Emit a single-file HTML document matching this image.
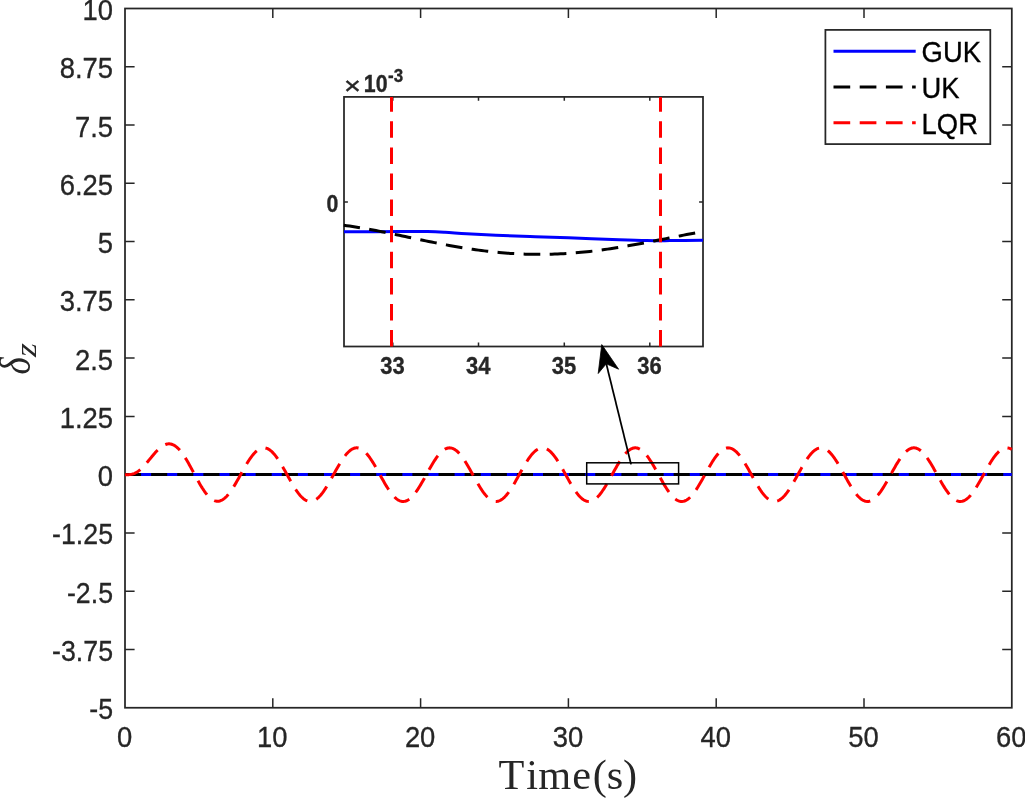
<!DOCTYPE html>
<html lang="en"><head><meta charset="utf-8"><title>Time response plot</title>
<style>html,body{margin:0;padding:0;background:#fff}svg{display:block}.t{font-family:"Liberation Sans",sans-serif;font-size:27.4px;fill:#262626;stroke:#262626;stroke-width:0.3px}.lg{font-family:"Liberation Sans",sans-serif;font-size:27.4px;fill:#000;stroke:#000;stroke-width:0.3px}.b{font-family:"Liberation Sans",sans-serif;font-weight:bold;font-size:22px;fill:#262626;stroke:#262626;stroke-width:0.3px}.xl{font-family:"Liberation Serif",serif;font-size:42.3px;fill:#262626}.yl{font-family:"Liberation Serif","DejaVu Serif",serif;font-style:italic;fill:#262626}</style></head><body>
<svg width="1025" height="800" viewBox="0 0 1025 800">
<rect width="1025" height="800" fill="#fff"/>
<g fill="none" stroke="#262626" stroke-width="1.75">
<rect x="125.0" y="8.5" width="886.80" height="699.25"/>
<path d="M272.80 707.75v-9.6M272.80 8.5v9.6M420.60 707.75v-9.6M420.60 8.5v9.6M568.40 707.75v-9.6M568.40 8.5v9.6M716.20 707.75v-9.6M716.20 8.5v9.6M864.00 707.75v-9.6M864.00 8.5v9.6M125.0 66.77h9.6M1011.8 66.77h-9.6M125.0 125.04h9.6M1011.8 125.04h-9.6M125.0 183.31h9.6M1011.8 183.31h-9.6M125.0 241.58h9.6M1011.8 241.58h-9.6M125.0 299.85h9.6M1011.8 299.85h-9.6M125.0 358.12h9.6M1011.8 358.12h-9.6M125.0 416.40h9.6M1011.8 416.40h-9.6M125.0 474.67h9.6M1011.8 474.67h-9.6M125.0 532.94h9.6M1011.8 532.94h-9.6M125.0 591.21h9.6M1011.8 591.21h-9.6M125.0 649.48h9.6M1011.8 649.48h-9.6" stroke-width="1.5"/>
</g>
<g fill="none" stroke-width="3.0">
<path d="M125.0 474.50H1011.8" stroke="#0000ff"/>
<path d="M125.0 474.50H1011.8" stroke="#000" stroke-dasharray="16.1 10.026"/>
<path d="M125.00 474.67 L125.74 474.67 L126.48 474.68 L127.22 474.67 L127.96 474.66 L128.69 474.63 L129.43 474.58 L130.17 474.50 L130.91 474.39 L131.65 474.24 L132.39 474.06 L133.13 473.84 L133.87 473.58 L134.61 473.28 L135.35 472.94 L136.09 472.55 L136.82 472.12 L137.56 471.65 L138.30 471.14 L139.04 470.59 L139.78 469.99 L140.52 469.36 L141.26 468.70 L142.00 468.00 L142.74 467.27 L143.47 466.50 L144.21 465.71 L144.95 464.90 L145.69 464.07 L146.43 463.21 L147.17 462.34 L147.91 461.46 L148.65 460.56 L149.39 459.66 L150.13 458.76 L150.87 457.86 L151.60 456.96 L152.34 456.06 L153.08 455.18 L153.82 454.31 L154.56 453.45 L155.30 452.61 L156.04 451.80 L156.78 451.01 L157.52 450.25 L158.25 449.52 L158.99 448.82 L159.73 448.16 L160.47 447.54 L161.21 446.95 L161.95 446.42 L162.69 445.93 L163.43 445.48 L164.17 445.09 L164.91 444.75 L165.64 444.46 L166.38 444.23 L167.12 444.05 L167.86 443.93 L168.60 443.87 L169.34 443.87 L170.08 443.93 L170.82 444.04 L171.56 444.22 L172.30 444.46 L173.03 444.76 L173.77 445.12 L174.51 445.54 L175.25 446.03 L175.99 446.57 L176.73 447.16 L177.47 447.82 L178.21 448.53 L178.95 449.30 L179.69 450.11 L180.43 450.98 L181.16 451.90 L181.90 452.87 L182.64 453.89 L183.38 454.94 L184.12 456.04 L184.86 457.18 L185.60 458.36 L186.34 459.56 L187.08 460.80 L187.81 462.07 L188.55 463.36 L189.29 464.68 L190.03 466.01 L190.77 467.36 L191.51 468.72 L192.25 470.10 L192.99 471.48 L193.73 472.86 L194.47 474.24 L195.20 475.62 L195.94 477.00 L196.68 478.36 L197.42 479.71 L198.16 481.05 L198.90 482.36 L199.64 483.66 L200.38 484.92 L201.12 486.16 L201.86 487.37 L202.59 488.55 L203.33 489.68 L204.07 490.78 L204.81 491.83 L205.55 492.84 L206.29 493.80 L207.03 494.71 L207.77 495.57 L208.51 496.38 L209.25 497.13 L209.98 497.82 L210.72 498.45 L211.46 499.02 L212.20 499.53 L212.94 499.97 L213.68 500.35 L214.42 500.67 L215.16 500.92 L215.90 501.10 L216.64 501.21 L217.38 501.26 L218.11 501.24 L218.85 501.15 L219.59 501.00 L220.33 500.77 L221.07 500.49 L221.81 500.13 L222.55 499.72 L223.29 499.24 L224.03 498.69 L224.76 498.09 L225.50 497.43 L226.24 496.71 L226.98 495.93 L227.72 495.10 L228.46 494.22 L229.20 493.29 L229.94 492.31 L230.68 491.29 L231.42 490.23 L232.15 489.12 L232.89 487.98 L233.63 486.81 L234.37 485.60 L235.11 484.37 L235.85 483.12 L236.59 481.84 L237.33 480.54 L238.07 479.23 L238.81 477.91 L239.55 476.58 L240.28 475.24 L241.02 473.90 L241.76 472.57 L242.50 471.24 L243.24 469.91 L243.98 468.60 L244.72 467.31 L245.46 466.03 L246.20 464.77 L246.94 463.54 L247.67 462.34 L248.41 461.16 L249.15 460.02 L249.89 458.92 L250.63 457.86 L251.37 456.83 L252.11 455.86 L252.85 454.92 L253.59 454.04 L254.32 453.21 L255.06 452.44 L255.80 451.71 L256.54 451.05 L257.28 450.45 L258.02 449.90 L258.76 449.42 L259.50 449.00 L260.24 448.64 L260.98 448.35 L261.72 448.13 L262.45 447.97 L263.19 447.88 L263.93 447.85 L264.67 447.90 L265.41 448.00 L266.15 448.18 L266.89 448.42 L267.63 448.73 L268.37 449.10 L269.11 449.54 L269.84 450.03 L270.58 450.60 L271.32 451.22 L272.06 451.89 L272.80 452.63 L273.54 453.42 L274.28 454.26 L275.02 455.16 L275.76 456.10 L276.50 457.09 L277.23 458.13 L277.97 459.20 L278.71 460.32 L279.45 461.47 L280.19 462.65 L280.93 463.86 L281.67 465.10 L282.41 466.37 L283.15 467.65 L283.88 468.95 L284.62 470.27 L285.36 471.59 L286.10 472.93 L286.84 474.27 L287.58 475.61 L288.32 476.95 L289.06 478.28 L289.80 479.60 L290.54 480.91 L291.27 482.21 L292.01 483.48 L292.75 484.74 L293.49 485.97 L294.23 487.17 L294.97 488.34 L295.71 489.47 L296.45 490.57 L297.19 491.63 L297.93 492.64 L298.66 493.62 L299.40 494.54 L300.14 495.41 L300.88 496.24 L301.62 497.00 L302.36 497.72 L303.10 498.37 L303.84 498.97 L304.58 499.50 L305.32 499.98 L306.05 500.39 L306.79 500.73 L307.53 501.01 L308.27 501.22 L309.01 501.37 L309.75 501.45 L310.49 501.47 L311.23 501.42 L311.97 501.30 L312.71 501.11 L313.44 500.86 L314.18 500.54 L314.92 500.16 L315.66 499.71 L316.40 499.20 L317.14 498.63 L317.88 498.00 L318.62 497.31 L319.36 496.57 L320.10 495.77 L320.83 494.92 L321.57 494.01 L322.31 493.06 L323.05 492.06 L323.79 491.02 L324.53 489.94 L325.27 488.82 L326.01 487.67 L326.75 486.48 L327.49 485.26 L328.23 484.02 L328.96 482.75 L329.70 481.46 L330.44 480.16 L331.18 478.84 L331.92 477.51 L332.66 476.18 L333.40 474.84 L334.14 473.50 L334.88 472.16 L335.62 470.83 L336.35 469.51 L337.09 468.20 L337.83 466.91 L338.57 465.64 L339.31 464.39 L340.05 463.16 L340.79 461.97 L341.53 460.80 L342.27 459.67 L343.00 458.58 L343.74 457.53 L344.48 456.52 L345.22 455.56 L345.96 454.64 L346.70 453.78 L347.44 452.96 L348.18 452.20 L348.92 451.50 L349.66 450.86 L350.39 450.27 L351.13 449.75 L351.87 449.28 L352.61 448.89 L353.35 448.55 L354.09 448.28 L354.83 448.08 L355.57 447.94 L356.31 447.87 L357.05 447.87 L357.78 447.93 L358.52 448.06 L359.26 448.26 L360.00 448.52 L360.74 448.85 L361.48 449.25 L362.22 449.70 L362.96 450.22 L363.70 450.80 L364.44 451.44 L365.18 452.14 L365.91 452.90 L366.65 453.70 L367.39 454.56 L368.13 455.48 L368.87 456.44 L369.61 457.44 L370.35 458.49 L371.09 459.58 L371.83 460.70 L372.56 461.86 L373.30 463.06 L374.04 464.28 L374.78 465.53 L375.52 466.80 L376.26 468.09 L377.00 469.39 L377.74 470.72 L378.48 472.04 L379.22 473.38 L379.95 474.72 L380.69 476.06 L381.43 477.40 L382.17 478.73 L382.91 480.05 L383.65 481.35 L384.39 482.64 L385.13 483.91 L385.87 485.16 L386.61 486.37 L387.34 487.57 L388.08 488.72 L388.82 489.85 L389.56 490.93 L390.30 491.98 L391.04 492.98 L391.78 493.93 L392.52 494.84 L393.26 495.70 L394.00 496.50 L394.73 497.25 L395.47 497.94 L396.21 498.58 L396.95 499.16 L397.69 499.67 L398.43 500.12 L399.17 500.51 L399.91 500.83 L400.65 501.09 L401.39 501.28 L402.12 501.41 L402.86 501.47 L403.60 501.46 L404.34 501.38 L405.08 501.24 L405.82 501.03 L406.56 500.76 L407.30 500.42 L408.04 500.01 L408.78 499.55 L409.51 499.02 L410.25 498.43 L410.99 497.78 L411.73 497.07 L412.47 496.31 L413.21 495.49 L413.95 494.62 L414.69 493.70 L415.43 492.73 L416.17 491.72 L416.90 490.66 L417.64 489.57 L418.38 488.44 L419.12 487.27 L419.86 486.07 L420.60 484.85 L421.34 483.59 L422.08 482.32 L422.82 481.03 L423.56 479.72 L424.30 478.40 L425.03 477.06 L425.77 475.73 L426.51 474.39 L427.25 473.05 L427.99 471.71 L428.73 470.38 L429.47 469.07 L430.21 467.76 L430.95 466.48 L431.69 465.21 L432.42 463.97 L433.16 462.76 L433.90 461.57 L434.64 460.42 L435.38 459.30 L436.12 458.22 L436.86 457.19 L437.60 456.19 L438.34 455.24 L439.07 454.35 L439.81 453.50 L440.55 452.70 L441.29 451.96 L442.03 451.28 L442.77 450.65 L443.51 450.09 L444.25 449.58 L444.99 449.14 L445.73 448.77 L446.46 448.45 L447.20 448.21 L447.94 448.03 L448.68 447.91 L449.42 447.86 L450.16 447.88 L450.90 447.97 L451.64 448.12 L452.38 448.34 L453.12 448.63 L453.85 448.98 L454.59 449.39 L455.33 449.87 L456.07 450.41 L456.81 451.01 L457.55 451.67 L458.29 452.39 L459.03 453.16 L459.77 453.99 L460.51 454.87 L461.25 455.79 L461.98 456.77 L462.72 457.79 L463.46 458.85 L464.20 459.95 L464.94 461.09 L465.68 462.26 L466.42 463.46 L467.16 464.70 L467.90 465.95 L468.63 467.23 L469.37 468.53 L470.11 469.84 L470.85 471.16 L471.59 472.49 L472.33 473.83 L473.07 475.17 L473.81 476.51 L474.55 477.84 L475.29 479.17 L476.02 480.49 L476.76 481.79 L477.50 483.07 L478.24 484.33 L478.98 485.57 L479.72 486.78 L480.46 487.96 L481.20 489.11 L481.94 490.22 L482.68 491.29 L483.41 492.32 L484.15 493.30 L484.89 494.24 L485.63 495.13 L486.37 495.97 L487.11 496.76 L487.85 497.49 L488.59 498.16 L489.33 498.78 L490.07 499.33 L490.81 499.83 L491.54 500.26 L492.28 500.63 L493.02 500.93 L493.76 501.16 L494.50 501.33 L495.24 501.44 L495.98 501.47 L496.72 501.44 L497.46 501.34 L498.19 501.18 L498.93 500.95 L499.67 500.65 L500.41 500.29 L501.15 499.86 L501.89 499.38 L502.63 498.83 L503.37 498.21 L504.11 497.55 L504.85 496.82 L505.58 496.04 L506.32 495.20 L507.06 494.31 L507.80 493.38 L508.54 492.40 L509.28 491.37 L510.02 490.30 L510.76 489.19 L511.50 488.05 L512.24 486.87 L512.98 485.66 L513.71 484.43 L514.45 483.17 L515.19 481.89 L515.93 480.59 L516.67 479.27 L517.41 477.95 L518.15 476.61 L518.89 475.28 L519.63 473.94 L520.37 472.60 L521.10 471.26 L521.84 469.94 L522.58 468.63 L523.32 467.33 L524.06 466.05 L524.80 464.79 L525.54 463.56 L526.28 462.35 L527.02 461.18 L527.75 460.04 L528.49 458.93 L529.23 457.87 L529.97 456.85 L530.71 455.87 L531.45 454.94 L532.19 454.05 L532.93 453.22 L533.67 452.45 L534.41 451.73 L535.14 451.06 L535.88 450.46 L536.62 449.91 L537.36 449.43 L538.10 449.01 L538.84 448.65 L539.58 448.36 L540.32 448.14 L541.06 447.98 L541.80 447.89 L542.53 447.86 L543.27 447.90 L544.01 448.01 L544.75 448.19 L545.49 448.43 L546.23 448.74 L546.97 449.11 L547.71 449.55 L548.45 450.05 L549.19 450.61 L549.92 451.23 L550.66 451.91 L551.40 452.64 L552.14 453.43 L552.88 454.28 L553.62 455.17 L554.36 456.12 L555.10 457.11 L555.84 458.14 L556.58 459.22 L557.31 460.33 L558.05 461.48 L558.79 462.66 L559.53 463.88 L560.27 465.12 L561.01 466.38 L561.75 467.66 L562.49 468.97 L563.23 470.28 L563.97 471.61 L564.70 472.94 L565.44 474.28 L566.18 475.62 L566.92 476.96 L567.66 478.29 L568.40 479.61 L569.14 480.93 L569.88 482.22 L570.62 483.50 L571.36 484.75 L572.10 485.98 L572.83 487.18 L573.57 488.35 L574.31 489.48 L575.05 490.58 L575.79 491.64 L576.53 492.65 L577.27 493.63 L578.01 494.55 L578.75 495.42 L579.48 496.24 L580.22 497.01 L580.96 497.72 L581.70 498.38 L582.44 498.97 L583.18 499.51 L583.92 499.98 L584.66 500.39 L585.40 500.73 L586.14 501.01 L586.88 501.23 L587.61 501.37 L588.35 501.45 L589.09 501.47 L589.83 501.41 L590.57 501.29 L591.31 501.11 L592.05 500.85 L592.79 500.54 L593.53 500.15 L594.26 499.71 L595.00 499.20 L595.74 498.63 L596.48 498.00 L597.22 497.31 L597.96 496.56 L598.70 495.76 L599.44 494.91 L600.18 494.01 L600.92 493.05 L601.65 492.06 L602.39 491.01 L603.13 489.93 L603.87 488.81 L604.61 487.66 L605.35 486.47 L606.09 485.25 L606.83 484.01 L607.57 482.74 L608.31 481.45 L609.04 480.15 L609.78 478.83 L610.52 477.50 L611.26 476.16 L612.00 474.83 L612.74 473.49 L613.48 472.15 L614.22 470.82 L614.96 469.50 L615.70 468.19 L616.43 466.90 L617.17 465.62 L617.91 464.37 L618.65 463.15 L619.39 461.96 L620.13 460.79 L620.87 459.66 L621.61 458.57 L622.35 457.52 L623.09 456.51 L623.83 455.55 L624.56 454.63 L625.30 453.77 L626.04 452.96 L626.78 452.20 L627.52 451.50 L628.26 450.85 L629.00 450.27 L629.74 449.74 L630.48 449.28 L631.21 448.88 L631.95 448.55 L632.69 448.28 L633.43 448.08 L634.17 447.94 L634.91 447.87 L635.65 447.87 L636.39 447.93 L637.13 448.07 L637.87 448.26 L638.61 448.53 L639.34 448.86 L640.08 449.25 L640.82 449.71 L641.56 450.23 L642.30 450.81 L643.04 451.45 L643.78 452.15 L644.52 452.90 L645.26 453.71 L646.00 454.57 L646.73 455.48 L647.47 456.44 L648.21 457.45 L648.95 458.50 L649.69 459.59 L650.43 460.71 L651.17 461.87 L651.91 463.07 L652.65 464.29 L653.38 465.54 L654.12 466.81 L654.86 468.10 L655.60 469.41 L656.34 470.73 L657.08 472.06 L657.82 473.39 L658.56 474.73 L659.30 476.07 L660.04 477.41 L660.77 478.74 L661.51 480.06 L662.25 481.36 L662.99 482.65 L663.73 483.92 L664.47 485.17 L665.21 486.39 L665.95 487.58 L666.69 488.73 L667.43 489.86 L668.16 490.94 L668.90 491.99 L669.64 492.99 L670.38 493.94 L671.12 494.85 L671.86 495.70 L672.60 496.51 L673.34 497.26 L674.08 497.95 L674.82 498.59 L675.55 499.16 L676.29 499.67 L677.03 500.12 L677.77 500.51 L678.51 500.84 L679.25 501.09 L679.99 501.28 L680.73 501.41 L681.47 501.47 L682.21 501.46 L682.94 501.38 L683.68 501.24 L684.42 501.03 L685.16 500.76 L685.90 500.41 L686.64 500.01 L687.38 499.54 L688.12 499.01 L688.86 498.42 L689.60 497.77 L690.33 497.06 L691.07 496.30 L691.81 495.48 L692.55 494.61 L693.29 493.69 L694.03 492.72 L694.77 491.71 L695.51 490.66 L696.25 489.56 L696.99 488.43 L697.73 487.26 L698.46 486.06 L699.20 484.84 L699.94 483.58 L700.68 482.31 L701.42 481.02 L702.16 479.71 L702.90 478.38 L703.64 477.05 L704.38 475.71 L705.12 474.37 L705.85 473.04 L706.59 471.70 L707.33 470.37 L708.07 469.06 L708.81 467.75 L709.55 466.47 L710.29 465.20 L711.03 463.96 L711.77 462.75 L712.50 461.56 L713.24 460.41 L713.98 459.29 L714.72 458.21 L715.46 457.18 L716.20 456.18 L716.94 455.24 L717.68 454.34 L718.42 453.49 L719.16 452.69 L719.89 451.96 L720.63 451.27 L721.37 450.65 L722.11 450.08 L722.85 449.58 L723.59 449.14 L724.33 448.76 L725.07 448.45 L725.81 448.20 L726.55 448.02 L727.28 447.91 L728.02 447.86 L728.76 447.88 L729.50 447.97 L730.24 448.12 L730.98 448.34 L731.72 448.63 L732.46 448.98 L733.20 449.40 L733.94 449.88 L734.67 450.42 L735.41 451.02 L736.15 451.68 L736.89 452.40 L737.63 453.17 L738.37 454.00 L739.11 454.87 L739.85 455.80 L740.59 456.78 L741.33 457.80 L742.07 458.86 L742.80 459.96 L743.54 461.10 L744.28 462.27 L745.02 463.48 L745.76 464.71 L746.50 465.96 L747.24 467.24 L747.98 468.54 L748.72 469.85 L749.45 471.17 L750.19 472.51 L750.93 473.84 L751.67 475.18 L752.41 476.52 L753.15 477.86 L753.89 479.18 L754.63 480.50 L755.37 481.80 L756.11 483.08 L756.84 484.34 L757.58 485.58 L758.32 486.79 L759.06 487.97 L759.80 489.12 L760.54 490.23 L761.28 491.30 L762.02 492.33 L762.76 493.31 L763.50 494.25 L764.24 495.14 L764.97 495.98 L765.71 496.77 L766.45 497.50 L767.19 498.17 L767.93 498.79 L768.67 499.34 L769.41 499.83 L770.15 500.26 L770.89 500.63 L771.62 500.93 L772.36 501.16 L773.10 501.33 L773.84 501.44 L774.58 501.47 L775.32 501.44 L776.06 501.34 L776.80 501.18 L777.54 500.94 L778.28 500.65 L779.01 500.29 L779.75 499.86 L780.49 499.37 L781.23 498.82 L781.97 498.21 L782.71 497.54 L783.45 496.81 L784.19 496.03 L784.93 495.19 L785.67 494.31 L786.40 493.37 L787.14 492.39 L787.88 491.36 L788.62 490.29 L789.36 489.18 L790.10 488.04 L790.84 486.86 L791.58 485.65 L792.32 484.42 L793.06 483.16 L793.79 481.88 L794.53 480.58 L795.27 479.26 L796.01 477.94 L796.75 476.60 L797.49 475.26 L798.23 473.92 L798.97 472.59 L799.71 471.25 L800.45 469.93 L801.18 468.62 L801.92 467.32 L802.66 466.04 L803.40 464.78 L804.14 463.55 L804.88 462.34 L805.62 461.17 L806.36 460.03 L807.10 458.92 L807.84 457.86 L808.58 456.84 L809.31 455.86 L810.05 454.93 L810.79 454.05 L811.53 453.22 L812.27 452.44 L813.01 451.72 L813.75 451.06 L814.49 450.45 L815.23 449.91 L815.97 449.42 L816.70 449.01 L817.44 448.65 L818.18 448.36 L818.92 448.14 L819.66 447.98 L820.40 447.89 L821.14 447.86 L821.88 447.91 L822.62 448.02 L823.35 448.19 L824.09 448.43 L824.83 448.74 L825.57 449.11 L826.31 449.55 L827.05 450.05 L827.79 450.61 L828.53 451.23 L829.27 451.91 L830.01 452.65 L830.75 453.44 L831.48 454.29 L832.22 455.18 L832.96 456.12 L833.70 457.12 L834.44 458.15 L835.18 459.23 L835.92 460.34 L836.66 461.49 L837.40 462.67 L838.13 463.89 L838.87 465.13 L839.61 466.39 L840.35 467.68 L841.09 468.98 L841.83 470.29 L842.57 471.62 L843.31 472.96 L844.05 474.29 L844.79 475.63 L845.52 476.97 L846.26 478.30 L847.00 479.63 L847.74 480.94 L848.48 482.23 L849.22 483.51 L849.96 484.76 L850.70 485.99 L851.44 487.19 L852.18 488.36 L852.91 489.49 L853.65 490.59 L854.39 491.65 L855.13 492.66 L855.87 493.63 L856.61 494.56 L857.35 495.43 L858.09 496.25 L858.83 497.02 L859.57 497.73 L860.30 498.38 L861.04 498.98 L861.78 499.51 L862.52 499.98 L863.26 500.39 L864.00 500.74 L864.74 501.02 L865.48 501.23 L866.22 501.38 L866.96 501.46 L867.69 501.47 L868.43 501.41 L869.17 501.29 L869.91 501.11 L870.65 500.85 L871.39 500.53 L872.13 500.15 L872.87 499.70 L873.61 499.19 L874.35 498.62 L875.08 497.99 L875.82 497.30 L876.56 496.56 L877.30 495.75 L878.04 494.90 L878.78 494.00 L879.52 493.04 L880.26 492.05 L881.00 491.01 L881.74 489.92 L882.48 488.80 L883.21 487.65 L883.95 486.46 L884.69 485.24 L885.43 484.00 L886.17 482.73 L886.91 481.44 L887.65 480.14 L888.39 478.82 L889.13 477.49 L889.86 476.15 L890.60 474.81 L891.34 473.47 L892.08 472.14 L892.82 470.81 L893.56 469.49 L894.30 468.18 L895.04 466.89 L895.78 465.61 L896.52 464.36 L897.25 463.14 L897.99 461.95 L898.73 460.78 L899.47 459.65 L900.21 458.56 L900.95 457.51 L901.69 456.50 L902.43 455.54 L903.17 454.63 L903.91 453.76 L904.64 452.95 L905.38 452.19 L906.12 451.49 L906.86 450.85 L907.60 450.26 L908.34 449.74 L909.08 449.28 L909.82 448.88 L910.56 448.55 L911.30 448.28 L912.03 448.08 L912.77 447.94 L913.51 447.87 L914.25 447.87 L914.99 447.93 L915.73 448.07 L916.47 448.27 L917.21 448.53 L917.95 448.86 L918.69 449.25 L919.42 449.71 L920.16 450.23 L920.90 450.81 L921.64 451.45 L922.38 452.15 L923.12 452.91 L923.86 453.72 L924.60 454.58 L925.34 455.49 L926.08 456.45 L926.81 457.46 L927.55 458.51 L928.29 459.60 L929.03 460.72 L929.77 461.88 L930.51 463.08 L931.25 464.30 L931.99 465.55 L932.73 466.82 L933.47 468.11 L934.20 469.42 L934.94 470.74 L935.68 472.07 L936.42 473.41 L937.16 474.75 L937.90 476.08 L938.64 477.42 L939.38 478.75 L940.12 480.07 L940.86 481.37 L941.59 482.66 L942.33 483.93 L943.07 485.18 L943.81 486.40 L944.55 487.59 L945.29 488.74 L946.03 489.87 L946.77 490.95 L947.51 491.99 L948.25 492.99 L948.99 493.95 L949.72 494.86 L950.46 495.71 L951.20 496.52 L951.94 497.26 L952.68 497.96 L953.42 498.59 L954.16 499.16 L954.90 499.68 L955.64 500.13 L956.38 500.52 L957.11 500.84 L957.85 501.09 L958.59 501.29 L959.33 501.41 L960.07 501.47 L960.81 501.46 L961.55 501.38 L962.29 501.24 L963.03 501.03 L963.76 500.75 L964.50 500.41 L965.24 500.01 L965.98 499.54 L966.72 499.01 L967.46 498.42 L968.20 497.76 L968.94 497.06 L969.68 496.29 L970.42 495.47 L971.15 494.60 L971.89 493.68 L972.63 492.71 L973.37 491.70 L974.11 490.65 L974.85 489.55 L975.59 488.42 L976.33 487.25 L977.07 486.05 L977.81 484.82 L978.54 483.57 L979.28 482.30 L980.02 481.00 L980.76 479.69 L981.50 478.37 L982.24 477.04 L982.98 475.70 L983.72 474.36 L984.46 473.02 L985.20 471.69 L985.93 470.36 L986.67 469.04 L987.41 467.74 L988.15 466.46 L988.89 465.19 L989.63 463.95 L990.37 462.73 L991.11 461.55 L991.85 460.40 L992.59 459.28 L993.33 458.20 L994.06 457.17 L994.80 456.17 L995.54 455.23 L996.28 454.33 L997.02 453.48 L997.76 452.69 L998.50 451.95 L999.24 451.27 L999.98 450.64 L1000.71 450.08 L1001.45 449.58 L1002.19 449.14 L1002.93 448.76 L1003.67 448.45 L1004.41 448.20 L1005.15 448.02 L1005.89 447.91 L1006.63 447.86 L1007.37 447.88 L1008.10 447.97 L1008.84 448.13 L1009.58 448.35 L1010.32 448.63 L1011.06 448.99 L1011.80 449.40" stroke="#ff0000" stroke-dasharray="16.63 9.475"/>
</g>
<g class="t" text-anchor="end">
<text transform="translate(113.00 20.00) scale(1.0 1.09)">10</text>
<text transform="translate(113.00 78.27) scale(1.0 1.09)">8.75</text>
<text transform="translate(113.00 136.54) scale(1.0 1.09)">7.5</text>
<text transform="translate(113.00 194.81) scale(1.0 1.09)">6.25</text>
<text transform="translate(113.00 253.08) scale(1.0 1.09)">5</text>
<text transform="translate(113.00 311.35) scale(1.0 1.09)">3.75</text>
<text transform="translate(113.00 369.62) scale(1.0 1.09)">2.5</text>
<text transform="translate(113.00 427.90) scale(1.0 1.09)">1.25</text>
<text transform="translate(113.00 486.17) scale(1.0 1.09)">0</text>
<text transform="translate(113.00 544.44) scale(0.975 1.09)">-1.25</text>
<text transform="translate(113.00 602.71) scale(0.975 1.09)">-2.5</text>
<text transform="translate(113.00 660.98) scale(0.975 1.09)">-3.75</text>
<text transform="translate(113.00 719.25) scale(0.975 1.09)">-5</text>
</g>
<g class="t" text-anchor="middle">
<text transform="translate(124.50 746.80) scale(1.0 1.09)">0</text>
<text transform="translate(272.30 746.80) scale(1.0 1.09)">10</text>
<text transform="translate(420.10 746.80) scale(1.0 1.09)">20</text>
<text transform="translate(567.90 746.80) scale(1.0 1.09)">30</text>
<text transform="translate(715.70 746.80) scale(1.0 1.09)">40</text>
<text transform="translate(863.50 746.80) scale(1.0 1.09)">50</text>
<text transform="translate(1011.30 746.80) scale(1.0 1.09)">60</text>
</g>
<text class="xl" x="498.6" y="789.4" dx="0 3.4 0 1.1 1.75 -0.05 -0.3">Time(s)</text>
<g class="yl" transform="translate(30 374.5) rotate(-90)"><text transform="translate(0.00 0.00) scale(0.9 1.07)" font-size="41px">δ</text><text transform="translate(17.40 6.20) scale(1.24 1.0)" font-size="29px">z</text></g>
<rect x="825.4" y="29.9" width="164.9" height="114.2" fill="#fff" stroke="#262626" stroke-width="1.75"/>
<g fill="none" stroke-width="3.0">
<path d="M833.5 51.3H915.7" stroke="#0000ff"/>
<path d="M833.5 87.0H915.7" stroke="#000" stroke-dasharray="16.7 9.5"/>
<path d="M833.5 122.8H915.7" stroke="#ff0000" stroke-dasharray="16.7 9.5"/>
</g>
<g class="lg"><text transform="translate(921.60 62.00) scale(1.0 1.09)">GUK</text><text transform="translate(921.60 97.50) scale(1.0 1.09)">UK</text><text transform="translate(921.60 133.60) scale(1.0 1.09)">LQR</text></g>
<rect x="586.7" y="462.8" width="91.9" height="21.1" fill="none" stroke="#000" stroke-width="1.5"/>
<rect x="344.0" y="96.9" width="359.00" height="249.60" fill="#fff"/>
<g fill="none" stroke="#262626" stroke-width="1.75">
<rect x="344.0" y="96.9" width="359.00" height="249.60"/>
<path d="M392.8 346.5v-3.9M392.8 96.9v3.9M478.5 346.5v-3.9M478.5 96.9v3.9M564.3 346.5v-3.9M564.3 96.9v3.9M649.8 346.5v-3.9M649.8 96.9v3.9M344.0 201.9h3.9M703.0 201.9h-3.9" stroke-width="1.5"/>
</g>
<clipPath id="ic"><rect x="343.2" y="96.10000000000001" width="360.60" height="251.20"/></clipPath>
<g fill="none" stroke-width="3.0" clip-path="url(#ic)">
<path d="M344.00 231.70C353.33 231.68 386.07 231.62 400.00 231.60C413.93 231.58 420.10 231.48 427.60 231.60C435.10 231.72 438.50 231.93 445.00 232.30C451.50 232.67 458.12 233.30 466.60 233.80C475.08 234.30 485.33 234.85 495.90 235.30C506.47 235.75 517.90 236.08 530.00 236.50C542.10 236.92 553.62 237.25 568.50 237.80C583.38 238.35 606.28 239.33 619.30 239.80C632.32 240.27 638.15 240.47 646.60 240.60C655.05 240.73 660.60 240.65 670.00 240.60C679.40 240.55 697.50 240.35 703.00 240.30" stroke="#0000ff"/>
<path d="M343.70 225.27 L346.63 225.65 L349.56 226.06 L352.49 226.49 L355.42 226.93 L358.35 227.40 L361.28 227.89 L364.22 228.39 L367.15 228.91 L370.08 229.44 L373.01 229.99 L375.94 230.55 L378.87 231.12 L381.80 231.69 L384.73 232.28 L387.66 232.88 L390.59 233.48 L393.52 234.09 L396.45 234.70 L399.39 235.31 L402.32 235.93 L405.25 236.55 L408.18 237.17 L411.11 237.79 L414.04 238.41 L416.97 239.03 L419.90 239.64 L422.83 240.25 L425.76 240.85 L428.69 241.45 L431.62 242.04 L434.56 242.63 L437.49 243.21 L440.42 243.78 L443.35 244.34 L446.28 244.89 L449.21 245.43 L452.14 245.96 L455.07 246.47 L458.00 246.98 L460.93 247.47 L463.86 247.95 L466.79 248.41 L469.73 248.86 L472.66 249.30 L475.59 249.72 L478.52 250.12 L481.45 250.51 L484.38 250.88 L487.31 251.23 L490.24 251.57 L493.17 251.89 L496.10 252.19 L499.03 252.47 L501.96 252.73 L504.90 252.98 L507.83 253.20 L510.76 253.41 L513.69 253.59 L516.62 253.76 L519.55 253.91 L522.48 254.03 L525.41 254.14 L528.34 254.22 L531.27 254.29 L534.20 254.33 L537.13 254.36 L540.07 254.36 L543.00 254.35 L545.93 254.31 L548.86 254.25 L551.79 254.18 L554.72 254.08 L557.65 253.96 L560.58 253.82 L563.51 253.67 L566.44 253.49 L569.37 253.30 L572.30 253.08 L575.24 252.85 L578.17 252.60 L581.10 252.33 L584.03 252.04 L586.96 251.73 L589.89 251.41 L592.82 251.07 L595.75 250.71 L598.68 250.34 L601.61 249.95 L604.54 249.55 L607.47 249.13 L610.41 248.70 L613.34 248.25 L616.27 247.80 L619.20 247.32 L622.13 246.84 L625.06 246.34 L627.99 245.84 L630.92 245.32 L633.85 244.80 L636.78 244.26 L639.71 243.72 L642.64 243.17 L645.58 242.61 L648.51 242.05 L651.44 241.48 L654.37 240.91 L657.30 240.34 L660.23 239.76 L663.16 239.18 L666.09 238.60 L669.02 238.02 L671.95 237.44 L674.88 236.86 L677.81 236.29 L680.75 235.72 L683.68 235.15 L686.61 234.59 L689.54 234.04 L692.47 233.50 L695.40 232.96" stroke="#000" stroke-dasharray="16.7 9.4" stroke-dashoffset="0.3"/>
<path d="M391.5 96.9V346.7" stroke="#ff0000" stroke-dasharray="16.5 9.6" stroke-dashoffset="1.7"/>
<path d="M660.5 96.9V346.7" stroke="#ff0000" stroke-dasharray="16.5 9.6" stroke-dashoffset="1.7"/>
</g>
<path d="M631.05 464.4L606.25 363.6" fill="none" stroke="#000" stroke-width="1.8"/>
<path d="M601.75 344.6L618.6 369.2L606.25 363.8L598.2 373.5Z" fill="#000" stroke="#000" stroke-width="0.8" stroke-linejoin="round"/>
<g class="b" text-anchor="middle">
<text transform="translate(392.60 374.40) scale(1.0 1.09)">33</text>
<text transform="translate(478.30 374.40) scale(1.0 1.09)">34</text>
<text transform="translate(564.10 374.40) scale(1.0 1.09)">35</text>
<text transform="translate(649.60 374.40) scale(1.0 1.09)">36</text>
</g>
<g class="b"><text transform="translate(338.40 211.50) scale(0.97 1.09)" text-anchor="end">0</text>
<text transform="translate(344.00 94.30) scale(1.07 0.9)" font-size="27px" font-weight="normal" stroke-width="0.5">×</text><text transform="translate(363.80 92.40) scale(0.97 1.09)">10</text><text transform="translate(388.00 82.40) scale(1.0 1.09)" font-size="17px">-3</text></g>
</svg></body></html>
